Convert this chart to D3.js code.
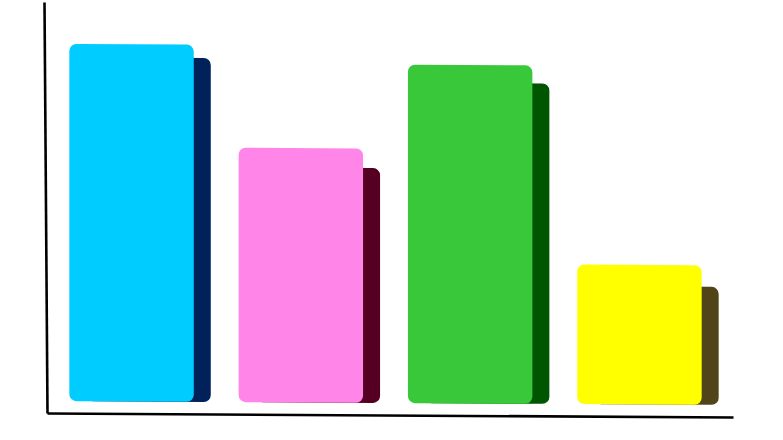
<!DOCTYPE html>
<html>
<head>
<meta charset="utf-8">
<script src="https://cdn.jsdelivr.net/npm/d3@7/dist/d3.min.js"></script>
<style>
  html, body { margin: 0; padding: 0; background: #ffffff; }
  svg { display: block; }
</style>
</head>
<body>
<svg id="chart" width="783" height="440"></svg>
<script>
// ---- data ----
const categories = ["A", "B", "C", "D"];
const frontValues = [89.3, 63.6, 84.6, 34.9];
const backValues = [86.0, 58.7, 80.1, 29.5];
const frontColors = ["#00CCFF", "#FF85E8", "#38C83A", "#FFFF00"];
const backColors = ["#00215A", "#550022", "#005500", "#524419"];

// ---- layout ----
const svg = d3.select("#chart");

// bars: slight downward slope of the baseline, vertical sides
const gBars = svg.append("g")
  .attr("transform", "matrix(1,0.0058,0,1,47,413)");
// axes: slightly hand-drawn skewed frame
const gAxes = svg.append("g")
  .attr("transform", "matrix(1,0.0058,0.0073,1,47,413)");

const x = d3.scaleBand()
  .domain(categories)
  .range([-0.1, 677.1])
  .paddingInner(0.265)
  .paddingOuter(0.1325);

const y = d3.scaleLinear()
  .domain([0, 100])
  .range([-12, -412]);

const shadowDx = 17;
const radius = 7;

const data = categories.map((c, i) => ({
  cat: c, front: frontValues[i], back: backValues[i],
  fc: frontColors[i], bc: backColors[i]
}));

// back (shadow) bars
gBars.selectAll("rect.back")
  .data(data)
  .join("rect")
  .attr("class", "back")
  .attr("x", d => x(d.cat) + shadowDx)
  .attr("y", d => y(d.back))
  .attr("width", x.bandwidth())
  .attr("height", d => y(0) - y(d.back))
  .attr("rx", radius)
  .attr("fill", d => d.bc);

// front bars
gBars.selectAll("rect.front")
  .data(data)
  .join("rect")
  .attr("class", "front")
  .attr("x", d => x(d.cat))
  .attr("y", d => y(d.front))
  .attr("width", x.bandwidth())
  .attr("height", d => y(0) - y(d.front))
  .attr("rx", radius)
  .attr("fill", d => d.fc);

// axes (no ticks, only the frame lines)
const xAxisScale = d3.scaleLinear().domain([0, 1]).range([0, 686]);
const yAxisScale = d3.scaleLinear().domain([0, 1]).range([0, -411]);

gAxes.append("g")
  .call(d3.axisBottom(xAxisScale).tickValues([]).tickSizeOuter(0))
  .call(s => s.select(".domain").attr("stroke", "#000").attr("stroke-width", 2.6));

gAxes.append("g")
  .call(d3.axisLeft(yAxisScale).tickValues([]).tickSizeOuter(0))
  .call(s => s.select(".domain").attr("stroke", "#000").attr("stroke-width", 2.6));
</script>
</body>
</html>
